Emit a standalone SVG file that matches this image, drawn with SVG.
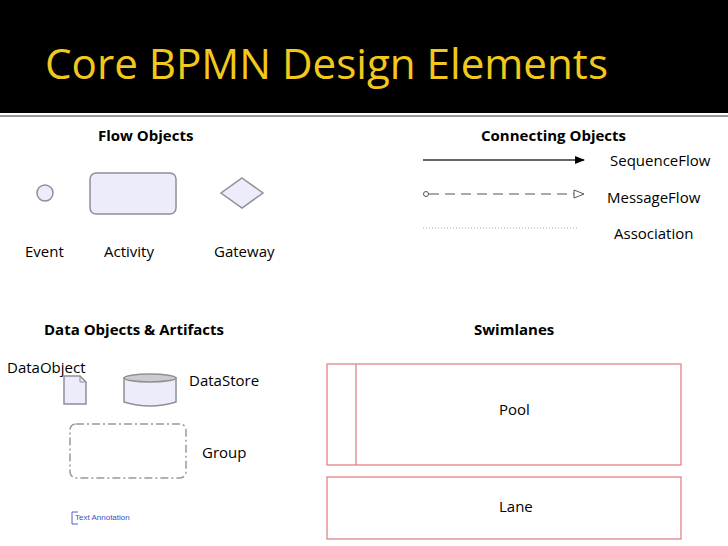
<svg xmlns="http://www.w3.org/2000/svg" width="728" height="546" viewBox="0 0 728 546">
<style>
text{font-family:"Open Sans","Noto Sans",sans-serif;fill:#000;font-size:15px}
.h{font-weight:bold}
.shape{fill:#ececfb;stroke:#8f8f98;stroke-width:1.5}
.lane{fill:none;stroke:#e07a7a;stroke-width:1.2}
</style>
<defs>
<marker id="fa" markerWidth="10" markerHeight="8" refX="9" refY="4" orient="auto" markerUnits="userSpaceOnUse"><path d="M0,0 L10,4 L0,8 Z" fill="#000"/></marker>
<marker id="oa" markerWidth="12" markerHeight="10" refX="11" refY="5" orient="auto" markerUnits="userSpaceOnUse"><path d="M1,1 L11,5 L1,9 Z" fill="#fff" stroke="#555"/></marker>
</defs>
<rect width="728" height="546" fill="#fff"/>
<rect width="728" height="113" fill="#000"/>
<line x1="0" y1="116" x2="728" y2="116" stroke="#999" stroke-width="2"/>
<text x="45" y="79" textLength="563" lengthAdjust="spacingAndGlyphs" style="font-size:42px;fill:#f2c81c;font-family:'Open Sans',sans-serif">Core BPMN Design Elements</text>

<text class="h" x="98" y="141">Flow Objects</text>
<g id="event"><circle cx="45" cy="193" r="8" class="shape"/><text x="25" y="257">Event</text></g>
<g id="activity"><rect x="90" y="173" width="86" height="41" rx="6" class="shape"/><text x="104" y="257">Activity</text></g>
<g id="gateway"><path d="M242,178 L263,193 L242,208 L221,193 Z" class="shape"/><text x="214" y="257">Gateway</text></g>

<text class="h" x="481" y="141">Connecting Objects</text>
<g id="connectors">
<line x1="423" y1="160" x2="584" y2="160" stroke="#333" stroke-width="1.5" marker-end="url(#fa)"/>
<circle cx="426" cy="194" r="2.5" fill="#fff" stroke="#555"/>
<line x1="429" y1="194" x2="584" y2="194" stroke="#555" stroke-width="1.2" stroke-dasharray="10,6" marker-end="url(#oa)"/>
<line x1="423" y1="228" x2="578" y2="228" stroke="#aaa" stroke-width="1" stroke-dasharray="1,2"/>
</g>
<text x="610" y="166">SequenceFlow</text>
<text x="607" y="203">MessageFlow</text>
<text x="614" y="239">Association</text>

<text class="h" x="44" y="335">Data Objects &amp; Artifacts</text>
<g id="dataobject"><text x="7" y="373">DataObject</text><path d="M64,376 L80,376 L86,382 L86,404 L64,404 Z" class="shape"/><path d="M80,376 L80,382 L86,382" fill="none" stroke="#8f8f98"/></g>
<g id="datastore"><path d="M124,378 L124,402 Q150,410 176,402 L176,378 Z" class="shape"/><ellipse cx="150" cy="378" rx="26" ry="4" fill="#ccc" stroke="#8f8f98" stroke-width="1.5"/><text x="189" y="386">DataStore</text></g>
<g id="group"><rect x="70" y="424" width="116" height="54" rx="6" fill="none" stroke="#999" stroke-width="1.5" stroke-dasharray="8,3,2,3"/><text x="202" y="458">Group</text></g>
<g id="annotation"><path d="M78,512 L72,512 L72,524 L78,524" fill="none" stroke="#5560c8"/><text x="75" y="520" style="font-size:8px;fill:#4050c0;font-family:'Liberation Sans',sans-serif">Text Annotation</text></g>

<text class="h" x="474" y="335">Swimlanes</text>
<g id="pool"><rect x="327" y="364" width="354" height="101" class="lane"/><line x1="356" y1="364" x2="356" y2="465" class="lane"/><text x="499" y="415">Pool</text></g>
<g id="lane"><rect x="327" y="477" width="354" height="62" class="lane"/><text x="499" y="512">Lane</text></g>
</svg>
